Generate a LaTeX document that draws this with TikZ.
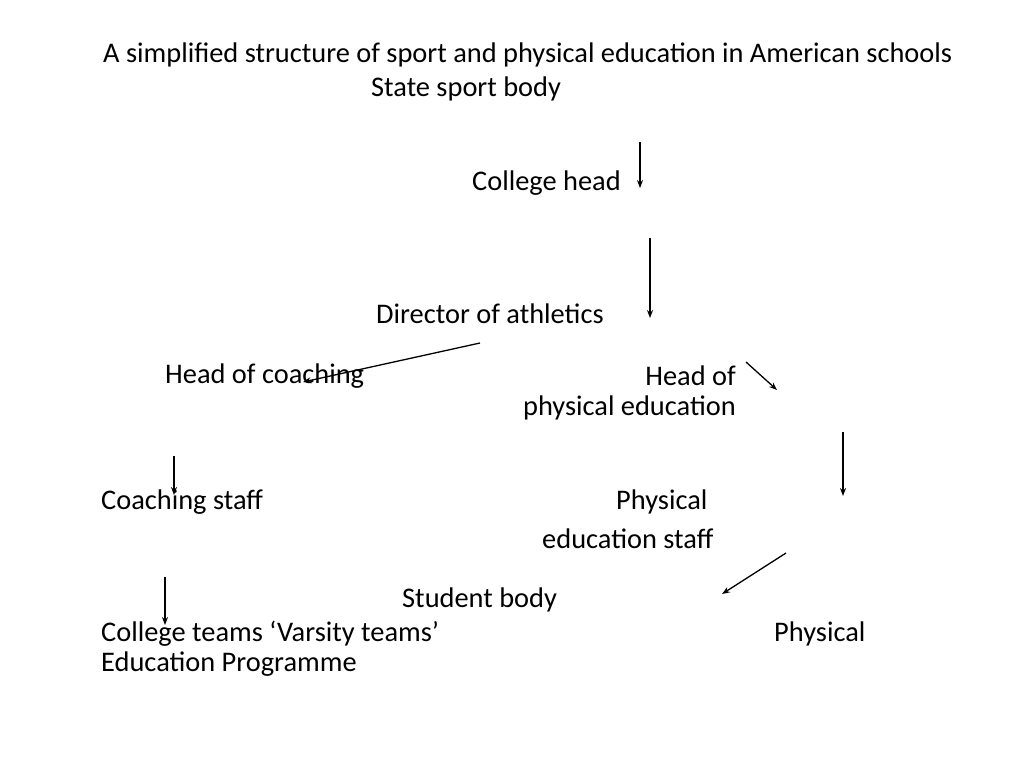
\documentclass[tikz,border=0pt]{standalone}
\usepackage{fontspec}
\usetikzlibrary{arrows.meta}
\setmainfont{Carlito}
\begin{document}
\begin{tikzpicture}[x=1pt,y=-1pt,
  lbl/.style={anchor=west,inner sep=0pt,font=\fontsize{28.4}{34}\selectfont},
  arr/.style={-{Stealth[length=8pt,width=6pt]},line width=1.3pt}]
\useasboundingbox (0,0) rectangle (1024,768);
\node[lbl] (t) at (103,55) {A simplified structure of sport and physical education in American schools};
\node[lbl] (s) at (371,89) {State sport body};
\node[lbl] (c) at (472,183) {College head};
\node[lbl] (d) at (376,314) {Director of athletics};
\node[lbl] (hc) at (165,376) {Head of coaching};
\node[lbl,anchor=east] (hp1) at (736,376) {Head of};
\node[lbl,anchor=east] (hp2) at (736,408) {physical education};
\node[lbl] (cs) at (101,502) {Coaching staff};
\node[lbl] (ps1) at (616,502) {Physical};
\node[lbl] (ps2) at (542,539) {education staff};
\node[lbl] (sb) at (402,600) {Student body};
\node[lbl] (ct) at (101,634) {College teams ‘Varsity teams’};
\node[lbl] (pe1) at (774,634) {Physical};
\node[lbl] (pe2) at (101,664) {Education Programme};
\coordinate (a1s) at (640,142); \coordinate (a1e) at (640,188);
\coordinate (a2s) at (650,238); \coordinate (a2e) at (650,318);
\coordinate (a3s) at (480,343); \coordinate (a3e) at (303,382);
\coordinate (a4s) at (746,362); \coordinate (a4e) at (777,390);
\coordinate (a5s) at (174,456); \coordinate (a5e) at (174,495);
\coordinate (a6s) at (843,432); \coordinate (a6e) at (843,496);
\coordinate (a7s) at (786,553); \coordinate (a7e) at (722,594);
\coordinate (a8s) at (165,577); \coordinate (a8e) at (165,625);
\foreach \i in {1,...,8} {\draw[arr] (a\i s) -- (a\i e);}
\end{tikzpicture}
\end{document}
